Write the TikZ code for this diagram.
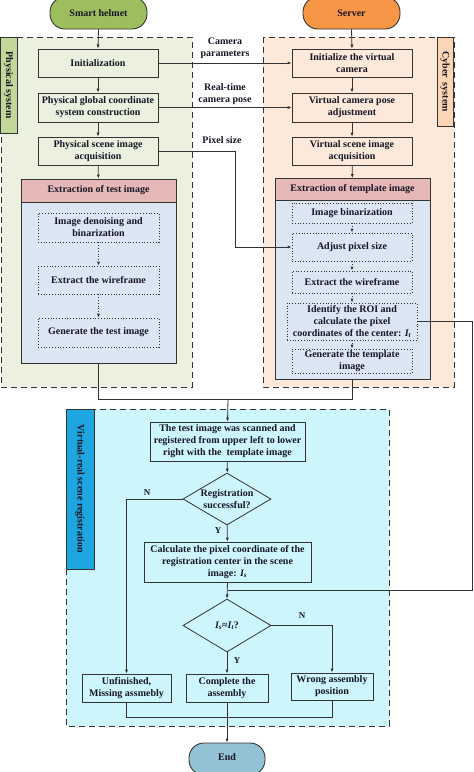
\documentclass[tikz,border=0pt]{standalone}
\usepackage{fontspec}
\setmainfont{Liberation Serif}
\usetikzlibrary{arrows.meta,shapes.geometric,calc}
\definecolor{linec}{HTML}{333333}
\definecolor{txtc}{HTML}{151525}
\definecolor{helmetgreen}{HTML}{9DBE5E}
\definecolor{physbg}{HTML}{EBF1DE}
\definecolor{phystab}{HTML}{C4D79B}
\definecolor{servorange}{HTML}{F79646}
\definecolor{cyberbg}{HTML}{FDE9D9}
\definecolor{cybertab}{HTML}{FCD5B4}
\definecolor{headpink}{HTML}{E6B8B7}
\definecolor{bodyblue}{HTML}{DCE6F2}
\definecolor{regbg}{HTML}{CDF6FC}
\definecolor{regtab}{HTML}{1EA6E0}
\definecolor{endblue}{HTML}{93C2D6}
\newcommand\myfont{\fontsize{10}{12}\selectfont\bfseries}
\newcommand\mysmall{\fontsize{9}{11}\selectfont\bfseries}
\begin{document}
\begin{tikzpicture}[x=1pt,y=-1pt,
  every node/.style={text=txtc},
  box/.style={draw=linec,line width=0.8pt,align=center,inner sep=0pt,font=\myfont},
  dbox/.style={draw=linec,line width=0.8pt,dotted,fill=bodyblue,align=center,inner sep=0pt,font=\myfont},
  term/.style={draw=linec,line width=0.9pt,rounded corners=15pt,inner sep=0pt,font=\myfont},
  zone/.style={draw=linec,line width=1pt,dash pattern=on 6pt off 4pt},
  tab/.style={draw=linec,line width=0.8pt,inner sep=0pt,font=\myfont,rotate=-90},
  dia/.style={draw=linec,line width=0.8pt,diamond,inner sep=0pt},
  arr/.style={-{Latex[length=4pt,width=3.2pt]},draw=linec,line width=0.8pt},
  ln/.style={draw=linec,line width=0.8pt},
  darr/.style={-{Latex[length=4pt,width=3.2pt]},draw=linec,line width=0.8pt,dotted},
  lab/.style={font=\myfont,align=center,inner sep=0pt},
  yn/.style={font=\mysmall,inner sep=0pt}
]
\useasboundingbox (0,0) rectangle (474,772);
% zones
\path[zone,fill=physbg] (1,37) rectangle (192,387);
\path[zone,fill=cyberbg] (263,37) rectangle (454,387);
\path[zone,fill=regbg] (66,409) rectangle (389,726);
% tabs
\node[tab,fill=phystab,minimum width=96,minimum height=17] (ptab) at (8.5,85) {Physical system};
\node[tab,fill=cybertab,minimum width=89,minimum height=16] (ctab) at (445,81.5) {Cyber\ \ system};
\node[tab,fill=regtab,minimum width=160,minimum height=28] (rtab) at (80,489) {Virtual-real scene registration};
% terminators
\node[term,fill=helmetgreen,minimum width=97,minimum height=32] (helmet) at (98.5,13) {Smart helmet};
\node[term,fill=servorange,minimum width=97,minimum height=32] (server) at (351.5,13) {Server};
\node[term,fill=endblue,minimum width=76,minimum height=32] (end) at (227,759) {\raisebox{3pt}{End}};
% physical side
\node[box,fill=physbg,minimum width=120,minimum height=28] (init) at (98,63) {Initialization};
\node[box,fill=physbg,minimum width=120,minimum height=29] (pgc) at (98,107.5) {Physical global coordinate\\system construction};
\node[box,fill=physbg,minimum width=120,minimum height=28] (psia) at (98,151) {Physical scene image\\acquisition};
\node[box,fill=bodyblue,minimum width=155,minimum height=161] (testbody) at (98.5,282.5) {};
\node[box,fill=headpink,minimum width=155,minimum height=23] (testhead) at (98.5,190.5) {Extraction of test image};
\node[dbox,minimum width=121,minimum height=29] (den) at (98.5,227.5) {Image denoising and\\binarization};
\node[dbox,minimum width=121,minimum height=28] (wire1) at (98.5,280) {Extract the wireframe};
\node[dbox,minimum width=121,minimum height=29] (gen1) at (98.5,332.5) {Generate the test image};
% cyber side
\node[box,fill=cyberbg,minimum width=120,minimum height=28] (vinit) at (352,63) {Initialize the virtual\\camera};
\node[box,fill=cyberbg,minimum width=120,minimum height=29] (vpose) at (352,107.5) {Virtual camera pose\\adjustment};
\node[box,fill=cyberbg,minimum width=120,minimum height=28] (vsia) at (352,151) {Virtual scene image\\acquisition};
\node[box,fill=bodyblue,minimum width=155,minimum height=179] (tempbody) at (352.5,289.5) {};
\node[box,fill=headpink,minimum width=155,minimum height=22] (temphead) at (352.5,189.5) {Extraction of template image};
\node[dbox,minimum width=120,minimum height=20] (bin) at (352,213) {Image binarization};
\node[dbox,minimum width=120,minimum height=28] (adj) at (352,247) {Adjust pixel size};
\node[dbox,minimum width=120,minimum height=22] (wire2) at (352,282) {Extract the wireframe};
\node[dbox,minimum width=130,minimum height=37] (roi) at (352,321.5) {Identify the ROI and\\calculate the pixel\\coordinates of the center: {\itshape I}\textsubscript{\itshape t}};
\node[dbox,minimum width=120,minimum height=24] (gen2) at (352,361) {Generate the template\\image};
% registration
\node[box,fill=regbg,minimum width=155,minimum height=39] (scan) at (227.5,441.5) {The test image was scanned and\\registered from upper left to lower\\right with the\ \ template image};
\node[dia,fill=regbg,minimum width=88,minimum height=52,label={[lab]center:Registration\\successful?}] (d1) at (227,499) {};
\node[box,fill=regbg,minimum width=167,minimum height=40] (calc) at (227.5,562) {Calculate the pixel coordinate of the\\registration center in the scene\\image: {\itshape I}\textsubscript{\itshape s}};
\node[dia,fill=regbg,minimum width=88,minimum height=53,label={[lab]center:{\itshape I}\textsubscript{\itshape s}≈{\itshape I}\textsubscript{\itshape t}?}] (d2) at (227,625.5) {};
\node[box,fill=regbg,minimum width=89,minimum height=28] (unf) at (126.5,688) {Unfinished,\\Missing assmebly};
\node[box,fill=regbg,minimum width=82,minimum height=28] (comp) at (227,688) {Complete the\\assembly};
\node[box,fill=regbg,minimum width=82,minimum height=27] (wrong) at (332,686.5) {Wrong assembly\\position};
% labels
\node[lab] (lcam) at (225,48) {Camera\\parameters};
\node[lab] (lpose) at (225,94) {Real-time\\camera pose};
\node[lab] (lpix) at (222,140) {Pixel size};
\node[yn] (n1) at (147,493) {N};
\node[yn] (y1) at (218,531) {Y};
\node[yn] (n2) at (302,616) {N};
\node[yn] (y2) at (237,661) {Y};
% coordinates
\coordinate (J) at (228,399);
\coordinate (K) at (235,247);
\coordinate (R) at (472.5,321.5);
\coordinate (J2) at (228,590);
% connectors physical
\draw[arr] (helmet.south) -- (init.north);
\draw[arr] (init) -- (pgc);
\draw[arr] (pgc) -- (psia);
\draw[arr] (psia) -- (testhead);
\draw[darr] (den) -- (wire1);
\draw[darr] (wire1) -- (gen1);
% connectors cyber
\draw[arr] (server.south) -- (vinit.north);
\draw[arr] (vinit) -- (vpose);
\draw[arr] (vpose) -- (vsia);
\draw[arr] (vsia) -- (temphead);
\draw[darr] (bin) -- (adj);
\draw[darr] (adj) -- (wire2);
\draw[darr] (wire2) -- (roi);
\draw[darr] (roi) -- (gen2);
% cross connectors
\draw[arr] (init.east) -- (vinit.west);
\draw[arr] (pgc.east) -- (vpose.west);
\draw[arr] (psia.east) -| (K) -- (adj.west);
\draw[ln] (testbody.south) |- (J);
\draw[ln] (tempbody.south) |- (J);
\draw[arr] (J) -- (scan.north);
\draw[ln] (roi.east) -- (R) |- (J2);
% registration connectors
\draw[arr] (scan) -- (d1);
\draw[arr] (d1) -- (calc);
\draw[arr] (calc.south) -- (d2.north);
\draw[arr] (d1.west) -| (unf.north);
\draw[arr] (d2.east) -| (wrong.north);
\draw[arr] (d2) -- (comp);
\draw[ln] (unf.south) -- ++(0,15) -| (wrong.south);
\draw[arr] (comp.south) -- (end.north);
\end{tikzpicture}
\end{document}
